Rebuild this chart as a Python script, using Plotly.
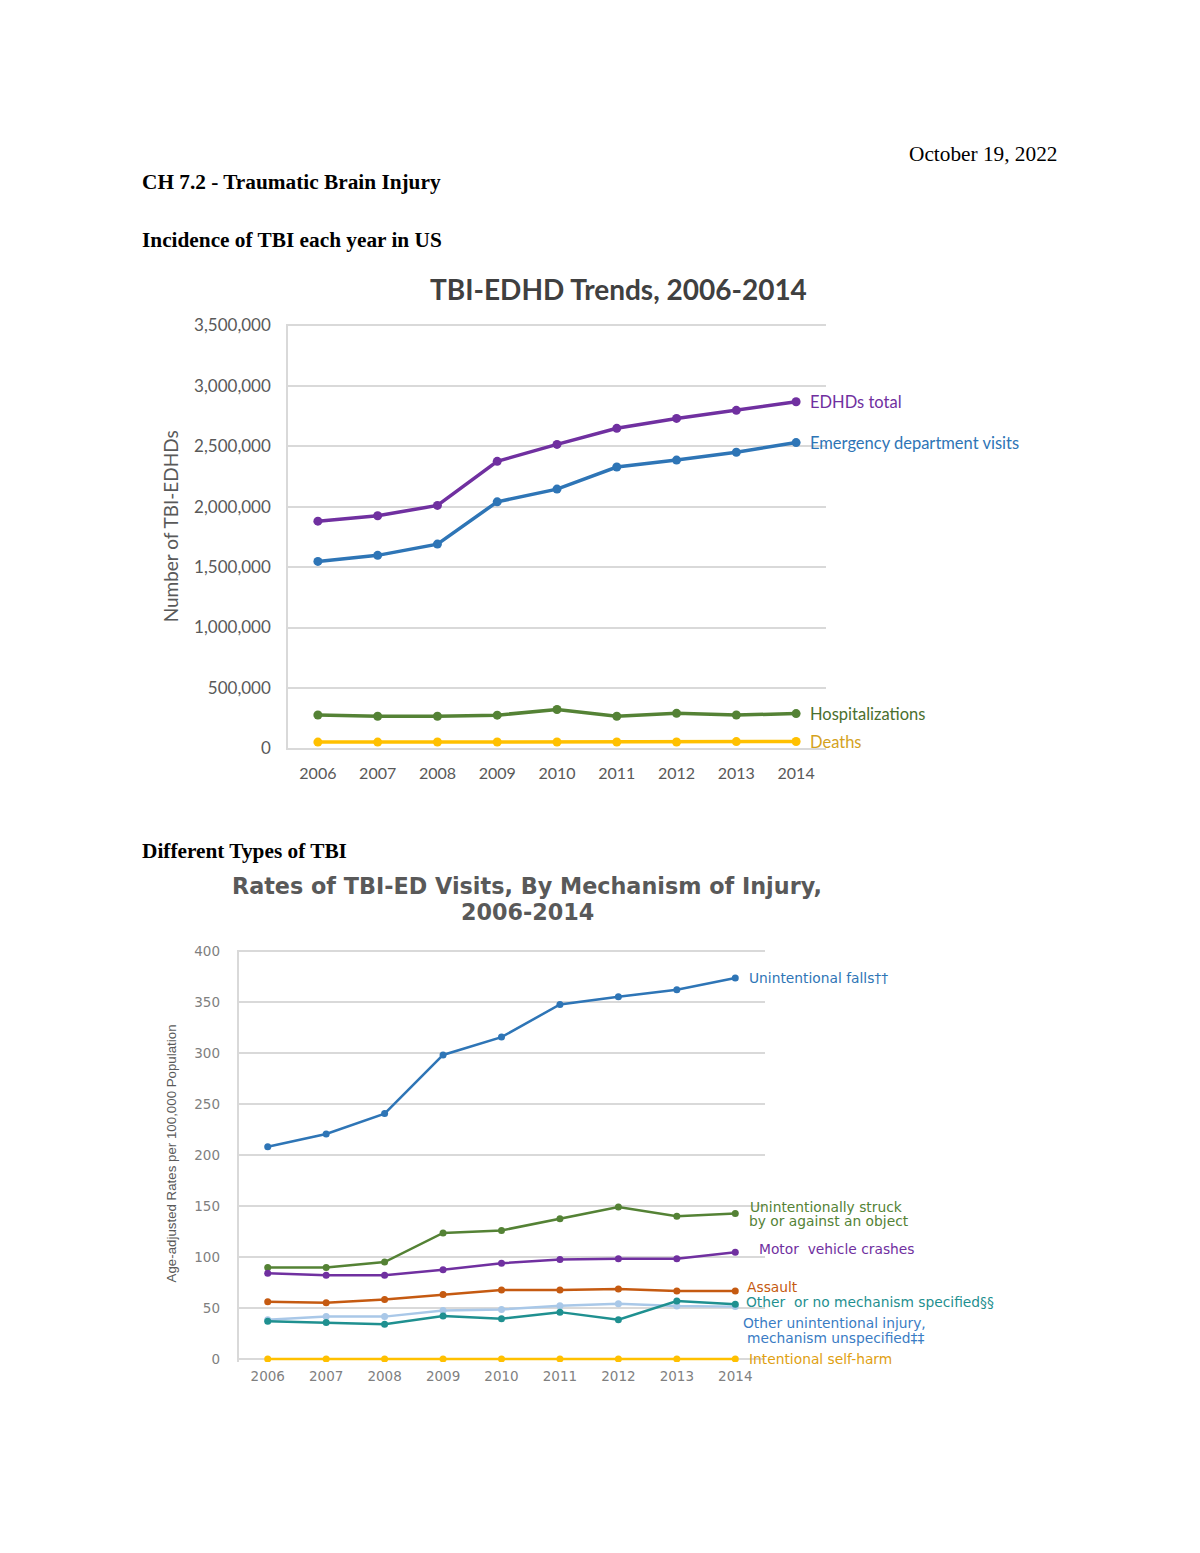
import plotly.graph_objects as go

W, H = 1200, 1553

# ---------------- data ----------------
years = [2006, 2007, 2008, 2009, 2010, 2011, 2012, 2013, 2014]

# Chart 1: TBI-EDHD Trends
edhd_total = [1880000, 1925000, 2010000, 2375000, 2515000, 2648000, 2730000, 2797000, 2868000]
ed_visits = [1547000, 1597000, 1690000, 2040000, 2145000, 2328000, 2385000, 2450000, 2530000]
hospitalizations = [276000, 266000, 266000, 275000, 322000, 266000, 290000, 276000, 288000]
deaths = [52000, 52000, 52500, 52500, 52800, 52500, 52500, 56000, 56800]

# Chart 2: Rates of TBI-ED visits by mechanism
falls = [208.5, 221, 241, 298.5, 316, 348, 355.5, 362.5, 374]
struck = [90.2, 90.2, 95.5, 124, 126.5, 138, 149.5, 140.5, 143]
motor = [84.5, 82.5, 82.5, 88, 94.3, 98, 98.7, 98.7, 105.2]
assault = [56.5, 55.5, 58.8, 63.6, 68, 68, 69, 67, 67]
other_nomech = [37.5, 36.2, 34.5, 42.6, 39.9, 46.4, 38.9, 57.2, 54.1]
other_unint = [39, 42, 42, 48, 49, 52.7, 54.5, 52.5, 51.8]
self_harm = [0.5, 0.5, 0.5, 0.5, 0.5, 0.5, 0.5, 0.5, 0.5]

c1_ticks = [0, 500000, 1000000, 1500000, 2000000, 2500000, 3000000, 3500000]
c1_ticktext = ["0", "500,000", "1,000,000", "1,500,000", "2,000,000", "2,500,000", "3,000,000", "3,500,000"]
c2_ticks = [0, 50, 100, 150, 200, 250, 300, 350, 400]

# ---------------- helpers (target page pixels -> paper fractions) ----------------
def fx(x):
    return (x - 8) / W

def fy(y):
    return 1 - ((y - 17.7) / 0.987) / H

fig = go.Figure()

c1 = [
    (edhd_total, "#7030a0", "EDHDs total", "#7030a0"),
    (ed_visits, "#2e75b6", "Emergency department visits", "#2e75b6"),
    (hospitalizations, "#548235", "Hospitalizations", "#4a6f2e"),
    (deaths, "#ffc000", "Deaths", "#d4a21c"),
]
for vals, col, name, lcol in c1:
    fig.add_trace(go.Scatter(x=years, y=vals, mode="lines+markers", name=name,
                             line=dict(color=col, width=3.5),
                             marker=dict(color=col, size=9),
                             xaxis="x", yaxis="y", showlegend=False))

# (values, line colour, label lines [(text, xshift, yshift)], label colour)
c2 = [
    (falls, "#2e75b6", [("Unintentional falls††", 12, 0)], "#2e75b6"),
    (struck, "#548235", [("Unintentionally struck", 13, 7), ("by or against an object", 12, -7)], "#548235"),
    (motor, "#7030a0", [("Motor  vehicle crashes", 22, 3)], "#7030a0"),
    (assault, "#c55a11", [("Assault", 10, 4)], "#c55a11"),
    (other_unint, "#a9c8e8", [("Other unintentional injury,", 6, -16), ("mechanism unspecified‡‡", 10, -31)], "#3a7cc4"),
    (other_nomech, "#1f9090", [("Other  or no mechanism specified§§", 9, 2)], "#1f9090"),
    (self_harm, "#ffc000", [("Intentional self-harm", 12, 0)], "#e0a010"),
]
for vals, col, lines, lcol in c2:
    fig.add_trace(go.Scatter(x=years, y=vals, mode="lines+markers",
                             line=dict(color=col, width=2.5),
                             marker=dict(color=col, size=7),
                             xaxis="x2", yaxis="y2", showlegend=False))

ann = []
for vals, col, name, lcol in c1:
    ann.append(dict(x=years[-1], y=vals[-1], xref="x", yref="y", text=name,
                    showarrow=False, xanchor="left", yanchor="middle", xshift=12,
                    font=dict(family="Lato", size=16.5, color=lcol)))
for vals, col, lines, lcol in c2:
    for text, xs, ys in lines:
        ann.append(dict(x=years[-1], y=vals[-1], xref="x2", yref="y2", text=text,
                        showarrow=False, xanchor="left", yanchor="middle",
                        xshift=xs, yshift=ys,
                        font=dict(family="DejaVu Sans", size=13.8, color=lcol)))

serif = dict(family="Liberation Serif", size=21.3, color="#000000")
ann += [
    dict(x=fx(1059), y=fy(154), xref="paper", yref="paper", text="October 19, 2022",
         showarrow=False, xanchor="right", yanchor="middle", font=serif),
    dict(x=fx(140), y=fy(182), xref="paper", yref="paper", text="<b>CH 7.2 - Traumatic Brain Injury</b>",
         showarrow=False, xanchor="left", yanchor="middle", font=serif),
    dict(x=fx(140), y=fy(240), xref="paper", yref="paper", text="<b>Incidence of TBI each year in US</b>",
         showarrow=False, xanchor="left", yanchor="middle", font=serif),
    dict(x=fx(140), y=fy(851), xref="paper", yref="paper", text="<b>Different Types of TBI</b>",
         showarrow=False, xanchor="left", yanchor="middle", font=serif),
    dict(x=fx(618), y=fy(289), xref="paper", yref="paper", text="<b>TBI-EDHD Trends, 2006-2014</b>",
         showarrow=False, xanchor="center", yanchor="middle",
         font=dict(family="Lato", size=28, color="#404040")),
    dict(x=fx(527), y=fy(886), xref="paper", yref="paper",
         text="<b>Rates of TBI-ED Visits, By Mechanism of Injury,</b>",
         showarrow=False, xanchor="center", yanchor="middle",
         font=dict(family="DejaVu Sans", size=22.3, color="#595959")),
    dict(x=fx(527), y=fy(912), xref="paper", yref="paper", text="<b>2006-2014</b>",
         showarrow=False, xanchor="center", yanchor="middle",
         font=dict(family="DejaVu Sans", size=22.3, color="#595959")),
    dict(x=fx(170), y=fy(526), xref="paper", yref="paper", text="Number of TBI-EDHDs",
         showarrow=False, textangle=-90, xanchor="center", yanchor="middle",
         font=dict(family="Lato", size=19, color="#595959")),
    dict(x=fx(171), y=fy(1153), xref="paper", yref="paper", text="Age-adjusted Rates per 100,000 Population",
         showarrow=False, textangle=-90, xanchor="center", yanchor="middle",
         font=dict(family="Liberation Sans", size=13.3, color="#595959")),
]

grid = "#d9d9d9"
# chart 1: range 0..3.51M ; pixel 748 (0) .. 325 (3.5M)
c1_top = 325 - 10000 / 3500000 * 423
# chart 2: range -2.5..401 ; pixel 1359 (0) .. 951 (400)
c2_bot = 1359 + 2.5 * 1.02
c2_top = 951 - 1 * 1.02

fig.update_layout(
    width=W, height=H,
    margin=dict(l=0, r=0, t=0, b=0),
    paper_bgcolor="white", plot_bgcolor="white",
    annotations=ann,
    xaxis=dict(domain=[fx(288), fx(826)], anchor="y", range=[2005.5, 2014.5],
               tickvals=years, ticktext=[str(y) for y in years], showgrid=False,
               showline=True, linecolor=grid, linewidth=1.5, zeroline=False, ticks="",
               ticklabelstandoff=10, layer="below traces",
               tickfont=dict(family="Lato", size=16, color="#595959"), fixedrange=True),
    yaxis=dict(domain=[fy(748), fy(c1_top)], anchor="x", range=[0, 3510000],
               tickvals=c1_ticks, ticktext=c1_ticktext, showgrid=True, gridcolor=grid, gridwidth=1.5,
               showline=True, linecolor=grid, linewidth=1.5, zeroline=False, ticks="",
               ticklabelstandoff=12, layer="below traces",
               tickfont=dict(family="Lato", size=17, color="#595959"), fixedrange=True),
    xaxis2=dict(domain=[fx(238.5), fx(764.5)], anchor="y2", range=[2005.5, 2014.5],
                tickvals=years, ticktext=[str(y) for y in years], showgrid=False,
                showline=False, zeroline=False, ticks="", layer="below traces",
                ticklabelstandoff=4,
                tickfont=dict(family="DejaVu Sans", size=13.5, color="#7f7f7f"), fixedrange=True),
    yaxis2=dict(domain=[fy(c2_bot), fy(c2_top)], anchor="x2", range=[-2.5, 401],
                tickvals=c2_ticks, showgrid=True, gridcolor=grid, gridwidth=1.5,
                showline=True, linecolor=grid, linewidth=1.5, zeroline=False, ticks="",
                ticklabelstandoff=14, layer="below traces",
                tickfont=dict(family="DejaVu Sans", size=13.5, color="#7f7f7f"), fixedrange=True),
)

fig.write_html("out.html")
